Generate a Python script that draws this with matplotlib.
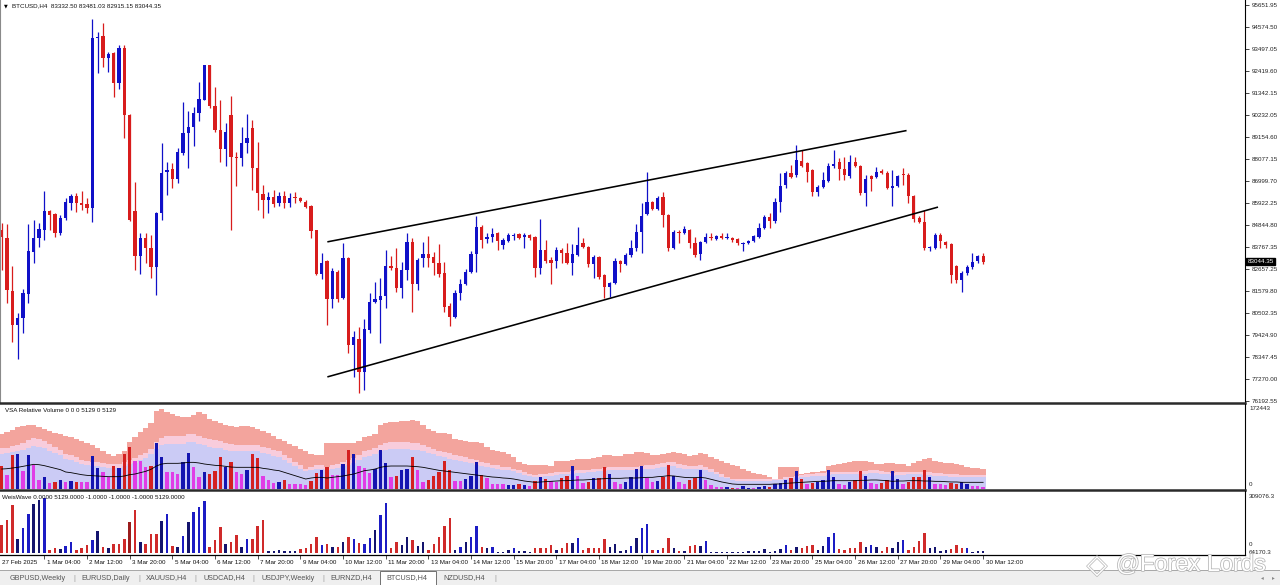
import numpy as np
import matplotlib
matplotlib.use("Agg")
import matplotlib.pyplot as plt
import matplotlib.transforms as mtransforms
import matplotlib.patheffects as pe
from matplotlib.patches import Rectangle

plt.rcParams['font.family'] = ['Liberation Sans', 'DejaVu Sans']

# BTCUSD H4 candles, 27 Feb 20:00 -> 30 Mar 12:00
opens = [84596, 84203, 81598, 79928, 80272, 81451, 83515, 84203, 84596, 85530,
         85382, 84448, 85186, 85923, 86266, 85923, 85874, 85677, 94031, 94129,
         93048, 93294, 91819, 93539, 90247, 85530, 83318, 84203, 83711, 82777,
         85431, 87446, 87594, 87102, 88380, 89362, 89657, 90345, 90984, 92704,
         90689, 89510, 88576, 90247, 88183, 88150, 88871, 89608, 87642, 86365,
         86070, 86217, 85923, 86266, 85923, 86217, 86168, 85972, 85775, 84596,
         82434, 83072, 81205, 82532, 81254, 83220, 78944, 79239, 77618, 79682,
         81058, 81156, 81353, 82827, 82729, 81746, 82630, 84006, 81942, 83220,
         83416, 83269, 82974, 82483, 80861, 80321, 81500, 81942, 82532, 83416,
         84743, 84154, 84252, 84448, 83859, 84055, 84301, 84399, 84252, 84350,
         84252, 82729, 83613, 83122, 83072, 83613, 83466, 82974, 83367, 83957,
         83760, 82925, 83269, 82384, 81795, 81991, 83072, 82925, 83367, 83711,
         84498, 85382, 85972, 85628, 86217, 85333, 83711, 84498, 84448, 84596,
         83957, 83416, 84006, 84252, 84154, 84301, 84203, 84203, 84154, 83908,
         83957, 84055, 84252, 84694, 85235, 85038, 85972, 86807, 87397, 87299,
         87986, 87888, 87544, 86463, 86709, 87004, 87741, 87937, 87594, 87249,
         87937, 87741, 86414, 87249, 87200, 87495, 87397, 86660, 86758, 87348,
         87299, 86267, 85186, 84989, 83711, 83711, 84350, 84006, 83908, 82827,
         82139, 82483, 82777, 83072, 83332.50]
highs = [84940, 84891, 82827, 80517, 81697, 84891, 85087, 84940, 86512, 85579,
         85431, 85333, 86168, 86365, 86414, 86512, 86168, 94964, 94325, 94768,
         93343, 93320, 93687, 93687, 90300, 86954, 84448, 84448, 84350, 85480,
         88871, 87937, 87888, 88625, 90886, 90443, 90640, 91868, 92720, 92720,
         91623, 90984, 89854, 91181, 88429, 89657, 90296, 90001, 88920, 86807,
         86463, 86561, 86463, 86512, 86414, 86463, 86217, 86070, 85824, 84620,
         83466, 83122, 82729, 82630, 83957, 83269, 79633, 79829, 80222, 81500,
         82041, 82237, 83613, 83318, 83711, 83023, 84448, 84203, 83220, 84006,
         84301, 83515, 83908, 83023, 81009, 81647, 82188, 82679, 83564, 85284,
         84842, 84448, 84694, 84500, 84203, 84448, 84448, 84448, 84448, 84399,
         84300, 85137, 84104, 83269, 83760, 83711, 83957, 83908, 84743, 84203,
         83810, 83367, 83318, 82434, 82041, 83220, 83122, 83466, 84104, 84891,
         85923, 87446, 86021, 86266, 86463, 85380, 84600, 84596, 84792, 84645,
         84252, 84055, 84448, 84448, 84350, 84448, 84448, 84252, 84203, 84006,
         84104, 84350, 84940, 85333, 85431, 86168, 87397, 87495, 87790, 88773,
         88527, 87937, 87594, 86807, 87446, 87888, 88527, 88134, 88183, 88281,
         88183, 87790, 87299, 87299, 87692, 87594, 87495, 87544, 87299, 87642,
         87397, 86300, 85284, 85579, 83810, 84448, 84448, 84055, 83957, 82876,
         82581, 82876, 83466, 83367, 83481.03]
lows = [82630, 81009, 79092, 78257, 79535, 81009, 82974, 83760, 84104, 84596,
        84252, 84350, 85087, 85579, 85481, 85579, 85431, 84989, 92311, 92606,
        92360, 91131, 91525, 89117, 85040, 82630, 82434, 82974, 82237, 81402,
        85087, 86316, 86660, 86905, 88281, 87642, 88724, 89952, 90960, 90591,
        89411, 87937, 87741, 84596, 86758, 87741, 88380, 86561, 85579, 85186,
        85431, 85726, 85775, 85677, 85726, 85923, 85972, 85677, 84203, 82400,
        82188, 79928, 80763, 81058, 81200, 78551, 77372, 76586, 76733, 79535,
        81030, 79043, 80763, 82630, 81549, 81254, 82139, 80566, 81647, 82777,
        82777, 82384, 82286, 80566, 79879, 80272, 81156, 81893, 82500, 82532,
        83711, 83957, 84006, 83613, 83662, 84006, 84104, 84154, 83711, 84104,
        82286, 82434, 82974, 81942, 82729, 82974, 82925, 82384, 83318, 83711,
        82777, 82237, 82188, 81254, 81303, 81942, 82532, 82876, 83269, 83564,
        83466, 85333, 85579, 85579, 84743, 83564, 83660, 83957, 84399, 83711,
        83269, 83122, 83957, 84104, 84104, 84154, 84154, 84006, 83859, 83564,
        83908, 84006, 84203, 84645, 84694, 84940, 85480, 86660, 87151, 87200,
        87692, 86954, 86267, 86267, 86660, 86954, 87642, 87053, 87053, 87151,
        87692, 86316, 85775, 86512, 87151, 87348, 86610, 85775, 86709, 86807,
        85923, 84989, 84940, 83613, 83564, 83662, 83711, 83711, 81991, 81991,
        81549, 82384, 82679, 82974, 82915.15]
closes = [84252, 81647, 79928, 80272, 81500, 83564, 84203, 84645, 85530, 85333,
          84448, 85186, 85972, 86266, 85923, 85824, 85677, 94031, 94080, 93048,
          93245, 91819, 93539, 90247, 85087, 83318, 84203, 83711, 82777, 85431,
          87397, 87544, 87102, 88429, 89362, 89657, 90345, 91033, 92704, 90689,
          89510, 88576, 89411, 88183, 88150, 88871, 89117, 87642, 86414, 86070,
          86217, 85874, 86266, 85923, 86168, 86168, 86021, 85726, 84547, 82434,
          82974, 81205, 82581, 81205, 83220, 78944, 79337, 77618, 79731, 81058,
          81205, 81353, 82827, 82729, 81746, 82630, 84006, 81942, 83122, 83416,
          83220, 82974, 82434, 80812, 80321, 81500, 81942, 82532, 83416, 84743,
          84104, 84252, 84399, 84055, 84104, 84350, 84350, 84203, 84350, 84203,
          82729, 83613, 83072, 82974, 83613, 83466, 82974, 83416, 83858, 83760,
          82925, 83269, 82286, 81795, 81991, 83072, 82925, 83367, 83711, 84498,
          85284, 85972, 85628, 86168, 85333, 83711, 84498, 84448, 84645, 83957,
          83367, 84006, 84252, 84203, 84301, 84203, 84252, 84104, 83957, 83957,
          84055, 84301, 84694, 85235, 85038, 85972, 86758, 87397, 87200, 88036,
          87741, 87446, 86463, 86709, 87053, 87741, 87839, 87594, 87299, 87937,
          87741, 86414, 87102, 87102, 87446, 87397, 86660, 86758, 87249, 87299,
          86267, 85137, 84989, 83711, 83760, 84350, 84055, 83859, 82384, 82139,
          82483, 82777, 83023, 83318, 83044.35]

# rising channel drawn on the chart (bar index, price)
channel_top_x = [61.2, 169.5]
channel_top_y = [84020, 89475]
channel_bot_x = [61.2, 175.4]
channel_bot_y = [77387, 85711]

price_ticks = [95651.95, 94574.50, 93497.05, 92419.60, 91342.15, 90232.05, 89154.60,
               88077.15, 86999.70, 85922.25, 84844.80, 83767.35, 82657.25, 81579.80,
               80502.35, 79424.90, 78347.45, 77270.00, 76192.55]

# VSA relative volume (thousands)
volume = [46.5, 29.4, 70.5, 71.8, 37.6, 69.8, 49.9, 18.5, 25.3, 12.3,
          15.0, 18.5, 13.7, 17.1, 13.7, 13.7, 13.7, 68.4, 43.8, 34.2,
          23.9, 47.2, 42.4, 71.8, 85.5, 58.1, 58.1, 44.5, 47.9, 93.7,
          66.3, 34.2, 34.2, 30.8, 54.7, 73.2, 44.5, 25.3, 34.2, 30.8,
          36.3, 65.0, 45.8, 54.7, 35.6, 30.8, 39.7, 71.8, 62.9, 27.4,
          18.5, 11.6, 14.4, 17.8, 10.3, 10.3, 10.3, 8.2, 17.1, 32.1,
          39.0, 45.8, 29.4, 29.4, 51.3, 80.0, 71.8, 47.9, 43.1, 32.8,
          41.0, 80.0, 52.7, 25.3, 27.4, 39.0, 41.0, 66.3, 39.0, 15.0,
          18.5, 26.0, 35.6, 58.1, 39.0, 15.7, 15.7, 20.5, 27.4, 56.1,
          29.4, 22.6, 10.3, 10.3, 10.3, 8.9, 8.9, 10.3, 8.9, 6.8,
          15.7, 25.3, 20.5, 17.1, 13.7, 22.6, 27.4, 47.9, 27.4, 11.6,
          15.0, 22.6, 22.6, 45.8, 30.8, 15.0, 10.3, 13.7, 23.9, 41.0,
          47.9, 22.6, 13.7, 17.1, 25.3, 49.2, 27.4, 13.7, 10.3, 18.5,
          22.6, 39.7, 19.2, 8.9, 4.8, 3.4, 4.8, 2.1, 1.4, 6.8,
          2.1, 2.1, 4.8, 6.8, 4.8, 10.3, 11.6, 18.5, 22.6, 37.6,
          20.5, 10.3, 12.3, 15.0, 18.5, 39.7, 25.3, 10.3, 8.2, 15.0,
          18.5, 37.6, 27.4, 11.6, 10.3, 11.6, 18.5, 37.6, 20.5, 10.3,
          13.7, 25.3, 25.3, 39.7, 25.3, 10.3, 10.3, 8.9, 12.3, 10.3,
          15.0, 10.3, 6.8, 5.5, 3.4]
vol_codes = ("rmrbmbmmbm" "rbmbrmmbbm" "mrbrrmmmrb" "bmmmbbmmbr" "rrbrmmbrrm"
             "mmbrmmmmrr" "brmmbrbmmm" "bbbmrbbrmm" "rrrrrmmbbb" "rmmmmbbrbm"
             "rbrmmrrbmm" "rbrrbmmbbb" "bmmbrrbmmr" "rbmmmmbrmb" "bmbbrbbbrb"
             "rmrbbbbmmb" "rrbmmrrbbm" "rrrrbmmmrr" "bbmmm")
vsa_band_hi = [112.9, 116.3, 121.8, 126.5, 129.3, 131.3, 132.0, 126.5, 122.4, 118.3,
               115.6, 112.9, 108.8, 106.0, 101.9, 97.8, 93.7, 89.6, 84.1, 78.7,
               71.8, 68.4, 71.8, 78.7, 95.8, 107.4, 116.3, 125.2, 134.7, 159.4,
               164.2, 157.3, 153.9, 150.5, 147.1, 148.4, 152.5, 157.3, 153.9, 143.6,
               138.9, 134.7, 132.0, 129.3, 126.5, 129.3, 129.3, 126.5, 123.1, 118.3,
               114.2, 109.4, 103.3, 97.8, 92.3, 87.6, 82.8, 77.3, 71.8, 70.5,
               70.5, 93.7, 93.7, 93.7, 93.7, 93.7, 93.7, 99.2, 107.4, 109.4,
               112.9, 132.0, 136.1, 136.8, 136.8, 138.9, 140.2, 141.6, 138.9, 132.0,
               123.1, 119.7, 114.2, 114.2, 112.9, 102.6, 100.5, 97.8, 95.8, 95.8,
               93.7, 85.5, 80.0, 77.3, 75.2, 71.8, 66.3, 54.7, 51.3, 49.9,
               49.9, 49.2, 49.2, 47.9, 56.8, 56.8, 58.1, 59.5, 60.9, 61.6,
               61.6, 63.6, 66.3, 70.5, 70.5, 68.4, 68.4, 71.8, 71.8, 75.2,
               76.6, 73.2, 70.5, 70.5, 71.8, 73.9, 75.2, 73.9, 71.8, 67.0,
               70.5, 73.9, 71.8, 66.3, 61.6, 58.1, 52.7, 49.2, 46.5, 41.0,
               36.3, 32.8, 30.8, 28.0, 23.9, 20.5, 44.5, 44.5, 44.5, 44.5,
               30.8, 32.1, 34.2, 35.6, 37.6, 47.2, 49.9, 51.3, 52.7, 54.7,
               56.8, 58.1, 56.8, 54.7, 51.3, 51.3, 52.7, 52.7, 51.3, 51.3,
               47.9, 52.7, 56.8, 61.6, 62.9, 58.1, 54.7, 52.7, 52.7, 51.3,
               49.9, 45.8, 43.1, 42.4, 41.0]
vsa_band_mid = [84, 85, 88, 91, 95, 100, 104, 102, 98, 92,
                87, 81, 72, 69, 65, 60, 57, 56, 55, 53,
                52, 52, 52, 55, 60, 63, 69, 74, 83, 97,
                105, 108, 108, 108, 109, 112, 112, 109, 105, 102,
                100, 98, 95, 92, 91, 91, 91, 91, 91, 87,
                84, 80, 77, 70, 63, 56, 49, 42, 46, 49,
                49, 46, 49, 52, 55, 59, 63, 70, 77, 80,
                84, 91, 95, 97, 97, 97, 97, 95, 94, 91,
                87, 83, 79, 76, 73, 70, 67, 65, 62, 59,
                56, 53, 50, 49, 46, 45, 42, 38, 34, 31,
                28, 30, 31, 32, 34, 35, 35, 36, 38, 38,
                39, 41, 42, 43, 45, 45, 45, 46, 46, 46,
                48, 49, 49, 52, 53, 56, 55, 52, 49, 48,
                48, 49, 46, 41, 35, 30, 25, 21, 20, 20,
                20, 20, 20, 20, 20, 20, 21, 24, 25, 27,
                28, 30, 31, 32, 32, 34, 35, 35, 35, 35,
                35, 36, 36, 38, 38, 36, 35, 32, 34, 34,
                35, 35, 35, 34, 34, 32, 32, 31, 30, 30,
                28, 28, 28, 28, 28]
vsa_band_lo = [72, 73, 75, 78, 81, 85, 89, 87, 84, 79,
               74, 69, 61, 59, 55, 51, 49, 48, 47, 46,
               44, 44, 44, 47, 51, 54, 59, 64, 71, 83,
               90, 92, 92, 92, 93, 96, 96, 93, 90, 87,
               85, 84, 81, 79, 78, 78, 78, 78, 78, 74,
               72, 68, 66, 60, 54, 48, 42, 36, 40, 42,
               42, 40, 42, 44, 47, 50, 54, 60, 66, 68,
               72, 78, 81, 83, 83, 83, 83, 81, 80, 78,
               74, 71, 67, 65, 62, 60, 57, 55, 53, 50,
               48, 46, 43, 42, 40, 38, 36, 32, 29, 26,
               24, 25, 26, 27, 29, 30, 30, 31, 32, 32,
               34, 35, 36, 37, 38, 38, 38, 40, 40, 40,
               41, 42, 42, 44, 46, 48, 47, 44, 42, 41,
               41, 42, 40, 35, 30, 25, 22, 18, 17, 17,
               17, 17, 17, 17, 17, 18, 18, 20, 22, 23,
               24, 25, 26, 27, 27, 29, 30, 30, 30, 30,
               30, 31, 31, 32, 32, 31, 30, 27, 29, 29,
               30, 30, 30, 29, 29, 27, 27, 26, 25, 25,
               24, 24, 24, 24, 24]
vsa_ma = [41.0, 41.7, 43.1, 44.5, 46.5, 48.6, 50.6, 49.9, 47.9, 45.1,
          42.4, 39.7, 34.9, 33.5, 31.5, 29.4, 28.0, 27.4, 26.7, 26.0,
          25.3, 25.3, 25.3, 26.7, 29.4, 30.8, 33.5, 36.3, 40.4, 47.2,
          51.3, 52.7, 52.7, 52.7, 53.4, 54.7, 54.7, 53.4, 51.3, 49.9,
          48.6, 47.9, 46.5, 45.1, 44.5, 44.5, 44.5, 44.5, 44.5, 42.4,
          41.0, 39.0, 37.6, 34.2, 30.8, 27.4, 23.9, 20.5, 22.6, 23.9,
          23.9, 22.6, 23.9, 25.3, 26.7, 28.7, 30.8, 34.2, 37.6, 39.0,
          41.0, 44.5, 46.5, 47.2, 47.2, 47.2, 47.2, 46.5, 45.8, 44.5,
          42.4, 40.4, 38.3, 36.9, 35.6, 34.2, 32.8, 31.5, 30.1, 28.7,
          27.4, 26.0, 24.6, 23.9, 22.6, 21.9, 20.5, 18.5, 16.4, 15.0,
          13.7, 14.4, 15.0, 15.7, 16.4, 17.1, 17.1, 17.8, 18.5, 18.5,
          19.2, 19.8, 20.5, 21.2, 21.9, 21.9, 21.9, 22.6, 22.6, 22.6,
          23.3, 23.9, 23.9, 25.3, 26.0, 27.4, 26.7, 25.3, 23.9, 23.3,
          23.3, 23.9, 22.6, 19.8, 17.1, 14.4, 12.3, 10.3, 9.6, 9.6,
          9.6, 9.6, 9.6, 9.6, 9.6, 10.3, 10.3, 11.6, 12.3, 13.0,
          13.7, 14.4, 15.0, 15.7, 15.7, 16.4, 17.1, 17.1, 17.1, 17.1,
          17.1, 17.8, 17.8, 18.5, 18.5, 17.8, 17.1, 15.7, 16.4, 16.4,
          17.1, 17.1, 17.1, 16.4, 16.4, 15.7, 15.7, 15.0, 14.4, 14.4,
          13.7, 13.7, 13.7, 13.7, 13.7]

# Weis wave volume (thousands)
weis = [148.4, 172.9, 253.2, 73.3, 131.0, 204.3, 256.7, 279.4, 286.3, 17.5,
        26.2, 21.0, 34.9, 59.4, 17.5, 26.2, 43.7, 68.1, 117.0, 33.2,
        26.2, 47.1, 47.1, 75.1, 160.6, 225.2, 59.4, 47.1, 99.5, 99.5,
        167.6, 204.3, 34.9, 29.7, 87.3, 164.1, 213.0, 242.7, 274.1, 29.7,
        68.1, 137.9, 47.1, 55.9, 94.3, 29.7, 73.3, 73.3, 139.7, 172.9,
        12.2, 12.2, 17.5, 12.2, 12.2, 12.2, 21.0, 26.2, 47.1, 85.6,
        43.7, 47.1, 33.2, 33.2, 55.9, 85.6, 73.3, 50.6, 47.1, 78.6,
        120.5, 200.8, 261.9, 26.2, 55.9, 41.9, 85.6, 68.1, 38.4, 55.9,
        17.5, 47.1, 85.6, 143.2, 183.3, 17.5, 33.2, 55.9, 82.1, 139.7,
        33.2, 26.2, 33.2, 5.2, 5.2, 17.5, 26.2, 8.7, 8.7, 5.2,
        26.2, 26.2, 26.2, 43.7, 17.5, 26.2, 52.4, 50.6, 76.8, 17.5,
        24.4, 24.4, 26.2, 73.3, 33.2, 47.1, 12.2, 17.5, 38.4, 78.6,
        129.2, 151.9, 17.5, 17.5, 26.2, 76.8, 26.2, 12.2, 12.2, 34.9,
        41.9, 34.9, 61.1, 7.0, 5.2, 5.2, 5.2, 5.2, 5.2, 5.2,
        8.7, 8.7, 12.2, 21.0, 7.0, 12.2, 21.0, 41.9, 17.5, 33.2,
        24.4, 34.9, 41.9, 15.7, 34.9, 82.1, 103.0, 21.0, 15.7, 24.4,
        24.4, 55.9, 33.2, 41.9, 33.2, 12.2, 33.2, 24.4, 55.9, 68.1,
        17.5, 33.2, 61.1, 103.0, 24.4, 33.2, 12.2, 17.5, 21.0, 41.9,
        26.2, 26.2, 5.2, 10.5, 10.5]
weis_codes = ("rrrnbbnnbr" "rnbbrrrbnr" "nrrrdrnrrr" "nbrnbnbbbr" "rrnrrnbrrr"
              "nnnnnnrrrr" "brnrnrbrbb" "nbbrrnnrnn" "rrrrrnbnbb" "rnbnnnbnnn"
              "rrrrnrrnbr" "rrrrnnnnbn" "bbrbrrnrnr" "rnbnnnnnnn" "nnnnnnnbrn"
              "rrrnnbbrrr" "rrnbnrrnnb" "rrrrnnnnrr" "rbnnn")

xlabel_idx = [8, 16, 24, 32, 40, 48, 56, 64, 72, 80, 88, 96, 104, 112, 120,
              128, 136, 144, 152, 160, 168, 176, 184]
xlabel_text = ['1 Mar 04:00', '2 Mar 12:00', '3 Mar 20:00', '5 Mar 04:00', '6 Mar 12:00',
               '7 Mar 20:00', '9 Mar 04:00', '10 Mar 12:00', '11 Mar 20:00', '13 Mar 04:00',
               '14 Mar 12:00', '15 Mar 20:00', '17 Mar 04:00', '18 Mar 12:00', '19 Mar 20:00',
               '21 Mar 04:00', '22 Mar 12:00', '23 Mar 20:00', '25 Mar 04:00', '26 Mar 12:00',
               '27 Mar 20:00', '29 Mar 04:00', '30 Mar 12:00']

tabs = ['GBPUSD,Weekly', 'EURUSD,Daily', 'XAUUSD,H4', 'USDCAD,H4', 'USDJPY,Weekly',
        'EURNZD,H4', 'BTCUSD,H4', 'NZDUSD,H4']

series = [opens, highs, lows, closes, volume, vol_codes, vsa_band_hi, vsa_band_mid,
          vsa_band_lo, vsa_ma, weis, weis_codes]
assert all(len(s) == len(closes) for s in series), [len(s) for s in series]

BLUE = '#1010c8'
RED = '#d81c1c'
VOL_COLORS = {'b': '#1414b0', 'r': '#d42020', 'm': '#e03ce6'}
WEIS_COLORS = {'b': '#1c1cc4', 'n': '#14146e', 'r': '#cf2a2a', 'd': '#9a1c1c'}
SMALL = 4.5

W, H = 1280, 585
fig = plt.figure(figsize=(W / 100, H / 100), dpi=100)
fig.patch.set_facecolor('white')


def px_axes(x0, y0, x1, y1):
    return fig.add_axes([x0 / W, 1 - y1 / H, (x1 - x0) / W, (y1 - y0) / H])


def ftext(x, y, s, **kw):
    return fig.text(x / W, 1 - y / H, s, **kw)


n = len(closes)
x = np.arange(n)
XLIM = (-0.32, 233.1)

ax = px_axes(0, 0, 1245, 403)
axv = px_axes(0, 404, 1245, 490)
axw = px_axes(0, 491, 1245, 555)

# ---- price panel
o = np.array(opens)
c = np.array(closes)
up = c >= o
cols = np.where(up, BLUE, RED)
ax.vlines(x, lows, highs, colors=cols, lw=0.9)
ax.bar(x, np.maximum(np.abs(c - o), 45), bottom=np.minimum(o, c), width=0.6,
       color=cols, linewidth=0)
ax.plot(channel_top_x, channel_top_y, color='black', lw=1.15)
ax.plot(channel_bot_x, channel_bot_y, color='black', lw=1.15)
ax.set_xlim(*XLIM)
ax.set_ylim(76094, 95898)
ax.set_xticks([])
ax.yaxis.tick_right()
ax.set_yticks(price_ticks)
ax.set_yticklabels([f'{v:.2f}' for v in price_ticks])
ax.tick_params(axis='y', labelsize=SMALL, length=3, width=0.6, pad=2, colors='#222222')

trans = mtransforms.blended_transform_factory(ax.transAxes, ax.transData)
ax.text(1.0022, closes[-1], f'{closes[-1]:.2f}', transform=trans, ha='left', va='center',
        fontsize=SMALL, color='white', zorder=6, clip_on=False,
        bbox=dict(boxstyle='square,pad=0.2', fc='black', ec='black'))
ftext(4, 6, '\u25bc', fontsize=3.5, va='center', ha='left', family=['DejaVu Sans'])
ftext(12, 6, 'BTCUSD,H4  83332.50 83481.03 82915.15 83044.35', fontsize=SMALL,
      va='center', ha='left', color='#111111')

# ---- VSA relative volume panel
edges = np.arange(n + 1) - 0.5
axv.stairs(vsa_band_hi, edges, fill=True, color='#f3a49d', lw=0)
axv.stairs(vsa_band_mid, edges, fill=True, color='#f8ccdc', lw=0)
axv.stairs(vsa_band_lo, edges, fill=True, color='#cbcbf5', lw=0)
axv.plot(x, vsa_ma, color='black', lw=0.6)
axv.bar(x, volume, width=0.64, color=[VOL_COLORS[k] for k in vol_codes], linewidth=0)
axv.set_xlim(*XLIM)
axv.set_ylim(-2.05, 174.5)
axv.set_xticks([])
axv.set_yticks([])
axv.text(0.004, 0.93, 'VSA Relative Volume 0 0 0 5129 0 5129', transform=axv.transAxes,
         fontsize=SMALL, va='center', ha='left', color='#111111')
ftext(1249, 409, '172443', fontsize=SMALL, va='center', ha='left', color='#222222')
ftext(1249, 485, '0', fontsize=SMALL, va='center', ha='left', color='#222222')

# ---- Weis wave panel
axw.bar(x, weis, width=0.46, color=[WEIS_COLORS[k] for k in weis_codes], linewidth=0)
axw.set_xlim(*XLIM)
axw.set_ylim(-10.5, 324.8)
axw.set_yticks([])
axw.set_xticks(xlabel_idx)
axw.set_xticklabels([])
axw.tick_params(axis='x', length=3, width=0.6, direction='out', colors='#333333')
axw.text(0.002, 0.9, 'WeisWave 0.0000 5129.0000 -1.0000 -1.0000 -1.0000 5129.0000',
         transform=axw.transAxes, fontsize=SMALL, va='center', ha='left',
         color='#111111', zorder=5)
ftext(1249, 496, '309076.3', fontsize=SMALL, va='center', ha='left', color='#222222')
ftext(1249, 545, '0', fontsize=SMALL, va='center', ha='left', color='#222222')
ftext(1249, 553, '64170.3', fontsize=SMALL, va='center', ha='left', color='#222222')

xt = axw.get_xaxis_transform()
axw.text(0.06, -0.11, '27 Feb 2025', transform=xt, fontsize=SMALL, ha='left',
         va='center', color='#111111', clip_on=False)
for i, lab in zip(xlabel_idx, xlabel_text):
    axw.text(i + 0.45, -0.11, lab, transform=xt, fontsize=SMALL, ha='left',
             va='center', color='#111111', clip_on=False)

# frames and separators
for a in (ax, axv, axw):
    a.set_facecolor('none')
    a.spines['top'].set_visible(False)
    a.spines['left'].set_visible(False)
    a.spines['right'].set_linewidth(0.8)
ax.spines['left'].set_visible(True)
ax.spines['left'].set_color('#8a8a8a')
ax.spines['left'].set_linewidth(0.8)
ax.spines['bottom'].set_linewidth(1.8)
ax.spines['bottom'].set_color('#2a2a2a')
axv.spines['bottom'].set_linewidth(1.8)
axv.spines['bottom'].set_color('#2a2a2a')
axw.spines['bottom'].set_linewidth(0.9)

# ---- tab bar
fig.add_artist(Rectangle((0, 0), 1, 14 / H, transform=fig.transFigure,
                         facecolor='#efefef', edgecolor='none', zorder=0))
fig.add_artist(Rectangle((0, 14 / H), 1, 0.8 / H, transform=fig.transFigure,
                         facecolor='#a8a8a8', edgecolor='none', zorder=1))
tab_x = [38, 106, 167, 224, 288, 351, 407, 464]
for tx, name in zip(tab_x, tabs):
    ftext(tx, 578, name, fontsize=5.2, ha='center', va='center', color='#555555', zorder=3)
for sx in [74, 139, 195, 253, 323, 495]:
    ftext(sx, 578, '|', fontsize=5.5, ha='center', va='center', color='#9a9a9a', zorder=3)
fig.add_artist(Rectangle((380 / W, 0), 56 / W, 14.5 / H, transform=fig.transFigure,
                         facecolor='white', edgecolor='#707070', lw=0.7, zorder=2))
ftext(1262, 578, '\u25c2', fontsize=4, ha='center', va='center', color='#888888',
      family=['DejaVu Sans'])
ftext(1273, 578, '\u25b8', fontsize=4, ha='center', va='center', color='#888888',
      family=['DejaVu Sans'])

# watermark
ftext(1097, 566, '\u25c7', fontsize=19, ha='center', va='center', color='white',
      family=['DejaVu Sans'], zorder=4,
      path_effects=[pe.withStroke(linewidth=1.0, foreground='#b5b5b5')])
ftext(1191, 565, '@Forex Lords', fontsize=17, ha='center', va='center', color='white',
      zorder=4, path_effects=[pe.withStroke(linewidth=1.1, foreground='#b5b5b5')])

fig.savefig('out.png', dpi=100, facecolor='white')
